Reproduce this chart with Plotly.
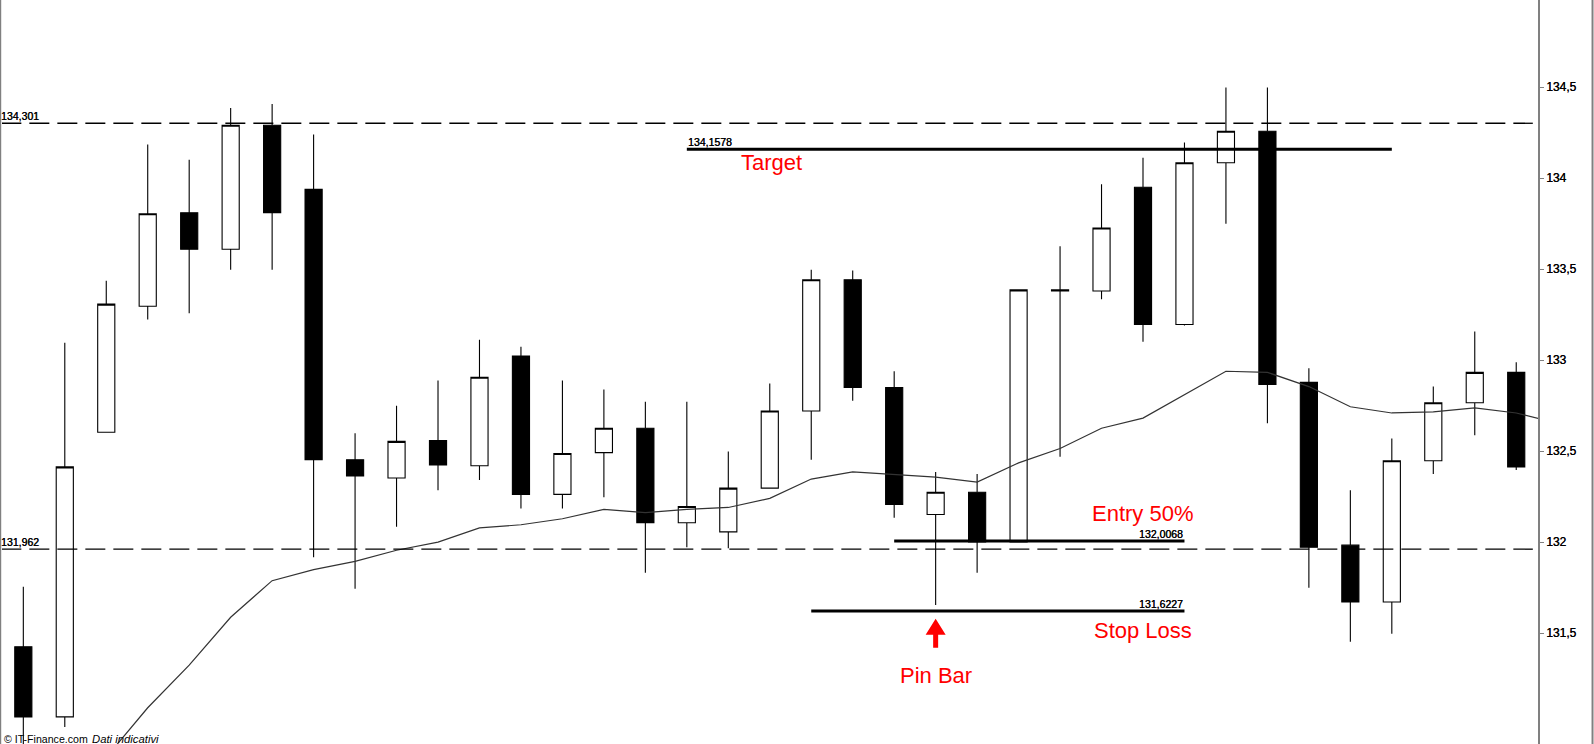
import plotly.graph_objects as go

session = list(range(37))
opens = [131.426,131.041,132.604,133.296,133.810,133.609,134.290,133.938,132.453,132.353,132.559,132.420,133.023,132.263,132.492,132.626,132.107,132.057,132.297,132.721,133.442,132.850,132.152,132.275,132.001,133.380,133.380,133.950,133.196,134.084,134.257,132.878,131.984,131.672,132.448,132.766,132.933]
highs = [131.755,133.095,133.436,134.184,134.100,134.385,134.407,134.240,132.598,132.749,132.889,133.112,133.073,132.889,132.839,132.772,132.772,132.498,132.872,133.497,133.492,132.939,132.386,132.375,133.386,133.626,133.966,134.112,134.195,134.497,134.497,132.956,132.286,132.570,132.855,133.157,132.989]
lows = [130.850,130.985,132.604,133.224,133.257,133.497,133.497,131.917,131.744,132.085,132.286,132.342,132.185,132.185,132.247,131.833,131.973,131.967,132.297,132.453,132.777,132.135,131.655,131.833,132.001,132.470,133.335,133.101,133.190,133.749,132.654,131.750,131.454,131.498,132.375,132.587,132.397]
closes = [131.041,132.414,133.308,133.804,133.609,134.290,133.810,132.453,132.364,132.554,132.425,132.906,132.263,132.487,132.626,132.107,132.196,132.297,132.721,133.442,132.850,132.208,132.275,132.001,133.386,133.386,133.726,133.196,134.084,134.257,132.866,131.973,131.672,132.448,132.766,132.933,132.414]

ma_x = list(range(2, 38))
ma_values = [130.819,131.091,131.325,131.588,131.789,131.850,131.895,131.956,132.001,132.079,132.096,132.129,132.180,132.163,132.180,132.191,132.241,132.347,132.386,132.370,132.358,132.330,132.436,132.515,132.626,132.682,132.811,132.939,132.933,132.855,132.744,132.710,132.716,132.738,132.710,132.654]

dashed_levels = [134.301, 131.962]
dashed_labels = ["134,301", "131,962"]
dashed_x = [-0.53, 36.4]

level_names = ["134,1578", "132,0068", "131,6227"]
level_values = [134.1578, 132.0068, 131.6227]
level_starts = [16, 21, 19]
level_ends = [33, 28, 28]

notes = ["Target", "Entry 50%", "Stop Loss", "Pin Bar"]
note_x = [18.03, 27.0, 27.0, 22.0]
note_y = [134.084, 132.157, 131.515, 131.268]

tick_vals = [134.5, 134, 133.5, 133, 132.5, 132, 131.5]
tick_text = ["134,5", "134", "133,5", "133", "132,5", "132", "131,5"]

semi = "0.35px 0 0 black"

fig = go.Figure()
fig.add_trace(go.Scatter(x=ma_x, y=ma_values, mode="lines", line=dict(color="#333333", width=1.2), showlegend=False))
fig.add_trace(go.Candlestick(
    x=session, open=opens, high=highs, low=lows, close=closes, whiskerwidth=0, showlegend=False,
    increasing=dict(fillcolor="white", line=dict(color="black", width=1.1)),
    decreasing=dict(fillcolor="black", line=dict(color="black", width=1.1)),
))
for v in dashed_levels:
    fig.add_trace(go.Scatter(x=dashed_x, y=[v, v], mode="lines", showlegend=False, cliponaxis=False,
                             line=dict(color="black", width=1.3, dash="20px,8px")))
for v, a, b in zip(level_values, level_starts, level_ends):
    fig.add_trace(go.Scatter(x=[a, b], y=[v, v], mode="lines", showlegend=False,
                             line=dict(color="black", width=3)))

small = dict(family="Liberation Sans", size=10.5, color="black", shadow=semi)
for t, v in zip(dashed_labels, dashed_levels):
    fig.add_annotation(text=t, xref="paper", x=0, y=v, xanchor="left", yanchor="bottom", showarrow=False, font=small, xshift=-3, yshift=-1)
fig.add_annotation(text=level_names[0], x=level_starts[0], y=level_values[0], xanchor="left", yanchor="bottom", showarrow=False, font=small, xshift=-1, yshift=-1)
fig.add_annotation(text=level_names[1], x=level_ends[1], y=level_values[1], xanchor="right", yanchor="bottom", showarrow=False, font=small, xshift=1, yshift=-1)
fig.add_annotation(text=level_names[2], x=level_ends[2], y=level_values[2], xanchor="right", yanchor="bottom", showarrow=False, font=small, xshift=1, yshift=-1)
for t, x, y in zip(notes, note_x, note_y):
    fig.add_annotation(text=t, x=x, y=y, showarrow=False, font=dict(family="Liberation Sans", size=22, color="red"))
fig.add_annotation(text="© IT-Finance.com", xref="paper", yref="paper", x=0.001, y=0.0, xanchor="left", yanchor="bottom", xshift=-2, yshift=-3,
                   showarrow=False, font=dict(family="Liberation Sans", size=10.6, color="black"))
fig.add_annotation(text="<i>Dati indicativi</i>", xref="paper", yref="paper", x=0.0585, y=0.0, xanchor="left", yanchor="bottom", xshift=-2, yshift=-3,
                   showarrow=False, font=dict(family="Liberation Sans", size=11.3, color="black"))

# Pin-bar arrow, sized in pixels and anchored on the data scale
fig.add_shape(type="path", xref="x", yref="y", xsizemode="pixel", ysizemode="pixel", xanchor=22, yanchor=131.58,
              path="M0,0 L10,-16 L2.5,-16 L2.5,-29 L-2.5,-29 L-2.5,-16 L-10,-16 Z", fillcolor="red", line=dict(width=0))
# Window frame rules
fig.add_shape(type="line", xref="paper", yref="paper", x0=-0.001, x1=-0.001, y0=0, y1=1, line=dict(color="#808080", width=1.5))
fig.add_shape(type="line", xref="paper", yref="paper", x0=1.0355, x1=1.0355, y0=0, y1=1, line=dict(color="#808080", width=2))

fig.update_layout(
    width=1594, height=744, margin=dict(l=2, r=56, t=0, b=0, pad=0), paper_bgcolor="white", plot_bgcolor="white",
    showlegend=False, boxgap=0.41,
    xaxis=dict(range=[-0.514, 36.525], visible=False, rangeslider=dict(visible=False), showgrid=False),
    yaxis=dict(range=[130.892, 134.978], side="right", showgrid=False, zeroline=False, showline=True, linecolor="#808080", linewidth=1.5,
               ticks="outside", ticklen=4, tickcolor="#808080", tickwidth=1, tickmode="array", tickvals=tick_vals, ticktext=tick_text,
               tickfont=dict(family="Liberation Sans", size=12, color="black", shadow=semi)),
)
fig.write_html("out.html", config=dict(displayModeBar=False), post_script="document.body.style.margin='0';document.body.style.overflow='hidden';")
